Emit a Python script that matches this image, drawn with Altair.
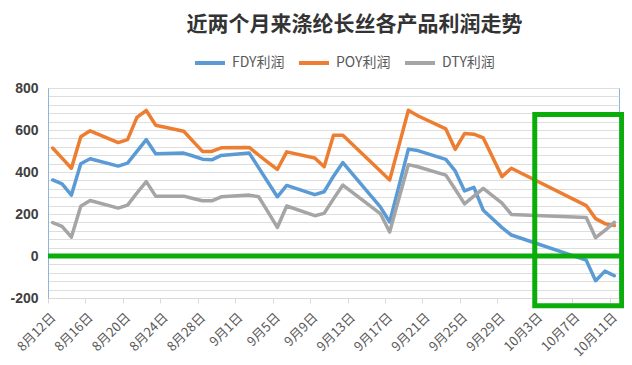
import altair as alt
import pandas as pd

# ---- data ----
dates = [
    "2019-08-12", "2019-08-13", "2019-08-14", "2019-08-15", "2019-08-16",
    "2019-08-19", "2019-08-20", "2019-08-21", "2019-08-22", "2019-08-23",
    "2019-08-26", "2019-08-27", "2019-08-28", "2019-08-29", "2019-08-30",
    "2019-09-02", "2019-09-03", "2019-09-04", "2019-09-05", "2019-09-06",
    "2019-09-09", "2019-09-10", "2019-09-11", "2019-09-12",
    "2019-09-16", "2019-09-17", "2019-09-18", "2019-09-19", "2019-09-20",
    "2019-09-23", "2019-09-24", "2019-09-25", "2019-09-26", "2019-09-27",
    "2019-09-29", "2019-09-30",
    "2019-10-08", "2019-10-09", "2019-10-10", "2019-10-11",
]
fdy = [362, 343, 290, 439, 463,
       428, 442, 498, 554, 487,
       490, 476, 461, 458, 479,
       490, 421, 351, 282, 336,
       292, 306, 380, 445,
       234, 162, 335, 509, 502,
       460, 405, 310, 327, 218,
       135, 100,
       -20, -118, -72, -94]
poy = [514, 466, 418, 568, 596,
       540, 554, 660, 693, 623,
       594, 546, 498, 498, 515,
       517, 481, 446, 412, 496,
       467, 425, 575, 575,
       405, 362, 528, 694, 668,
       605, 508, 583, 580, 562,
       378, 418,
       240, 178, 154, 145]
dty = [159, 141, 90, 237, 264,
       228, 242, 300, 354, 285,
       285, 274, 263, 263, 282,
       290, 282, 210, 136, 238,
       192, 203, 272, 338,
       202, 114, 276, 435, 425,
       385, 318, 248, 285, 322,
       252, 198,
       183, 87, 122, 160]

series_names = ["FDY利润", "POY利润", "DTY利润"]
series_colors = ["#5B9BD5", "#ED7D31", "#A5A5A5"]
title_text = "近两个月来涤纶长丝各产品利润走势"

tick_days = [(8, 12), (8, 16), (8, 20), (8, 24), (8, 28), (9, 1), (9, 5), (9, 9),
             (9, 13), (9, 17), (9, 21), (9, 25), (9, 29), (10, 3), (10, 7), (10, 11)]
y_ticks = list(range(-200, 801, 40))
y_domain = [-200, 800]

# annotation (green zero line and green box)
zero_line_x = ["2019-08-12T00:00:00", "2019-10-12T03:00:00"]
zero_line_y = [0]
box_x = ["2019-10-03T00:00:00", "2019-10-12T07:00:00"]
box_y = [674, -237]
green = "#0aad0a"

rows = []
for name, vals in zip(series_names, [fdy, poy, dty]):
    for d, v in zip(dates, vals):
        rows.append({"date": d + "T12:00:00", "series": name, "value": v})
df = pd.DataFrame(rows)

x_domain = [alt.DateTime(year=2019, month=8, date=12),
            alt.DateTime(year=2019, month=10, date=12)]
tick_values = [alt.DateTime(year=2019, month=m, date=d) for m, d in tick_days]

x_scale = alt.Scale(domain=x_domain)
y_scale = alt.Scale(domain=y_domain, nice=False, zero=False)

x_axis = alt.Axis(values=tick_values, format="%-m月%-d日", labelAngle=-45,
                  labelAlign="right", labelBaseline="middle",
                  labelPadding=12, labelOffset=5, grid=False,
                  labelOverlap=False, labelBound=False,
                  tickSize=5, tickColor="#d9d9d9", domainColor="#d9d9d9",
                  labelColor="#595959", labelFontSize=13,
                  labelFont="Noto Sans CJK SC", title=None)
y_axis = alt.Axis(values=y_ticks,
                  labelExpr="datum.value % 200 == 0 ? '' + datum.value : ''",
                  labelOverlap=False, labelBound=False,
                  ticks=False, labelPadding=10, labelFontSize=14,
                  labelFontWeight="bold", labelColor="#404040",
                  labelFont="Liberation Sans",
                  gridColor="#dedede", domainColor="#8eb4d9", title=None)

lines = alt.Chart(df).mark_line(strokeWidth=3.5, strokeJoin="round", strokeCap="round").encode(
    x=alt.X("date:T", scale=x_scale, axis=x_axis),
    y=alt.Y("value:Q", scale=y_scale, axis=y_axis),
    color=alt.Color("series:N", scale=alt.Scale(domain=series_names, range=series_colors),
                    legend=alt.Legend(orient="none", legendX=145, legendY=-42,
                                      direction="horizontal", symbolType="stroke",
                                      symbolStrokeWidth=4, symbolSize=900,
                                      labelFontSize=14, labelColor="#595959",
                                      labelFont="Noto Sans CJK SC",
                                      columnPadding=6, labelOffset=5, padding=0,
                                      title=None)),
)

zero_df = pd.DataFrame({"x": [zero_line_x[0]], "x2": [zero_line_x[1]], "y": zero_line_y})
zero_rule = alt.Chart(zero_df).mark_rule(strokeWidth=5, color=green).encode(
    x=alt.X("x:T", scale=x_scale, axis=x_axis), x2="x2:T",
    y=alt.Y("y:Q", scale=y_scale, axis=y_axis))

box_df = pd.DataFrame({"x": [box_x[0]], "x2": [box_x[1]], "y": [box_y[0]], "y2": [box_y[1]]})
box = alt.Chart(box_df).mark_rect(filled=False, stroke=green, strokeWidth=5, clip=False).encode(
    x=alt.X("x:T", scale=x_scale, axis=x_axis), x2="x2:T",
    y=alt.Y("y:Q", scale=y_scale, axis=y_axis), y2="y2:Q")

chart = alt.layer(lines, zero_rule, box).properties(
    width=571, height=210,
    autosize=alt.AutoSizeParams(type="none"),
    padding={"left": 40, "top": 80, "right": 5, "bottom": 59},
    title=alt.TitleParams(title_text, fontSize=21, font="Noto Sans CJK SC",
                          fontWeight="bold", color="#333333", anchor="middle",
                          dx=21, offset=11),
).configure_view(stroke="#8eb4d9", strokeWidth=1)

chart.save("out.html", embed_options={"renderer": "svg", "actions": False})
